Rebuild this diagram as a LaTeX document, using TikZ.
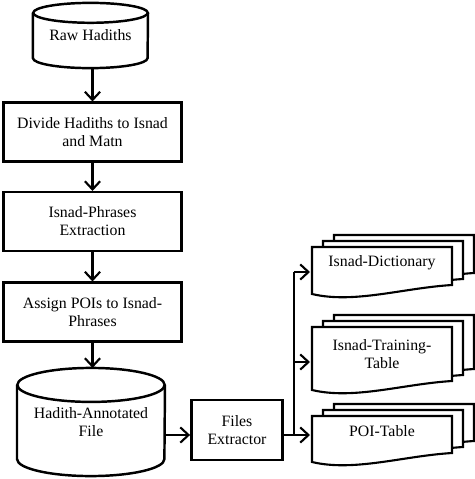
\documentclass[tikz,border=0pt]{standalone}
\usepackage{fontspec}
\setmainfont{Liberation Serif}
\usetikzlibrary{arrows.meta,calc}

% one sheet of a document stack: x, y (top left), width, height
\newcommand{\docsheet}[4]{%
  \filldraw[sheet] ({#1},{#2}) -- ({#1+#3},{#2}) -- ({#1+#3},{#2+#4-9})
    .. controls ({#1+0.65*#3},{#2+#4-6}) and ({#1+0.3*#3},{#2+#4+10}) .. ({#1},{#2+#4}) -- cycle;}
\newcommand{\docstack}[4]{%
  \docsheet{#1+22}{#2-12}{#3}{#4}
  \docsheet{#1+11}{#2-6}{#3}{#4}
  \docsheet{#1}{#2}{#3}{#4}}
% drum outline round a node: node, x radius, y radius
\newcommand{\drum}[3]{%
  \draw[dbline] (#1.north west) -- (#1.south west) arc[start angle=180,end angle=360,x radius=#2,y radius=#3] -- (#1.north east);
  \draw[dbline] (#1.north) ellipse[x radius=#2,y radius=#3];}

\begin{document}
\begin{tikzpicture}[x=0.03cm,y=-0.03cm,
  every node/.style={font=\fontsize{13.5}{15.5}\selectfont,align=center},
  box/.style={draw,line width=2.1pt,minimum width=152pt,minimum height=50pt,inner sep=2pt},
  db/.style={inner sep=0pt},
  dbline/.style={line width=2.1pt},
  arr/.style={-{Straight Barb[length=7pt,width=13pt]},line width=1.8pt},
  sheet/.style={fill=white,line width=1.8pt}]
\useasboundingbox (0,0) rectangle (474,479);

\node[db,minimum width=97.8pt,minimum height=38.3pt] (raw) at (90.5,35.5) {Raw Hadiths};
\drum{raw}{48.9pt}{8.5pt}
\node[box] (divide) at (92.5,132) {Divide Hadiths to Isnad\\and Matn};
\node[box] (phrases) at (92.5,221.5) {Isnad-Phrases\\Extraction};
\node[box] (assign) at (92.5,312) {Assign POIs to Isnad-\\Phrases};
\node[db,minimum width=125.9pt,minimum height=62.9pt] (ann) at (91,422) {Hadith-Annotated\\File};
\drum{ann}{62.9pt}{14.5pt}
\node[box,minimum width=78pt,minimum height=51pt] (fx) at (237,430) {Files\\Extractor};

\coordinate (rawbot) at ($(raw.south)+(0,10)$);
\coordinate (anntop) at ($(ann.north)+(0,-17)$);
\draw[arr] (rawbot -| divide.north) -- (divide.north);
\draw[arr] (divide.south) -- (phrases.north);
\draw[arr] (phrases.south) -- (assign.north);
\draw[arr] (assign.south) -- (anntop -| assign.south);

% output documents
\docstack{312}{247}{140}{47}
\docstack{312}{327}{140}{63}
\docstack{312}{416}{140}{46}
\node (dict) at (382,263) {Isnad-Dictionary};
\node (train) at (382,354) {Isnad-Training-\\Table};
\node (poi) at (382,431) {POI-Table};

\coordinate (fxin) at ($(fx.west)+(0,5)$);
\coordinate (fxout) at ($(fx.east)+(0,5)$);
\coordinate (jn) at ($(fxout)+(10,0)$);
\coordinate (dictin) at (310,272);
\coordinate (trainin) at (310,362);
\coordinate (poiin) at (fxout -| dictin);

\draw[arr] (ann.east |- fxin) -- (fxin);
\draw[line width=1.8pt] (fxout) -- (jn) -- (jn |- dictin);
\draw[arr] (jn |- dictin) -- (dictin);
\draw[arr] (jn |- trainin) -- (trainin);
\draw[arr] (jn) -- (poiin);
\end{tikzpicture}
\end{document}
